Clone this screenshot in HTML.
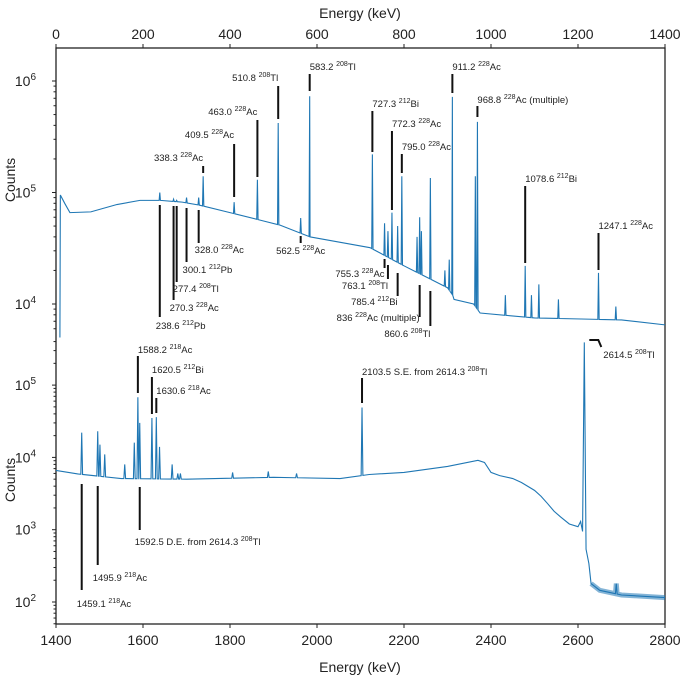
<!DOCTYPE html>
<html><head><meta charset="utf-8"><style>
html,body{margin:0;padding:0;background:#fff;}
svg{display:block;font-family:"Liberation Sans","DejaVu Sans",sans-serif;}
.tk{font-size:14px;fill:#222;}
.an{font-size:9.5px;fill:#222;}
.sup{font-size:7px;}
</style></head><body>
<svg id="chart" width="685" height="679" viewBox="0 0 685 679" xmlns="http://www.w3.org/2000/svg">
<g id="axes"></g><g id="series"></g><g id="annos"></g>
</svg>
<script>
// ---- data: top panel (0-1400 keV) ----
const topContE = [9, 10, 20, 32, 80, 140, 193, 240, 290, 330, 400, 515, 584, 722, 800, 900, 912, 915, 960, 975, 1100, 1300, 1400];
const topContC = [5000, 95000, 80000, 66000, 67000, 78000, 85000, 85000, 82000, 77000, 66000, 51000, 40000, 32000, 22000, 14000, 12000, 11000, 10000, 8300, 7500, 7200, 6500];
const topPeakE = [238.6, 270.3, 277.4, 300.1, 328.0, 338.3, 409.5, 463.0, 510.8, 562.5, 583.2, 727.3, 755.3, 763.1, 772.3, 785.4, 795.0, 830, 836, 840, 860.6, 894, 904, 911.2, 964, 968.8, 1033, 1078.6, 1093, 1110, 1155, 1247.1, 1287];
const topPeakC = [100000, 87000, 85000, 90000, 90000, 140000, 82000, 130000, 420000, 59000, 730000, 220000, 53000, 45000, 66000, 50000, 140000, 40000, 60000, 45000, 135000, 20000, 25000, 720000, 140000, 430000, 12000, 22000, 12000, 15000, 11000, 19000, 9500];
// ---- data: bottom panel (1400-2800 keV) ----
const botContE = [1400, 1450, 1550, 1700, 1900, 2053, 2120, 2200, 2300, 2370, 2385, 2400, 2420, 2450, 2470, 2500, 2515, 2530, 2545, 2560, 2580, 2600, 2606, 2625, 2630, 2650, 2700, 2800];
const botContC = [6600, 5900, 5100, 5000, 5300, 5100, 5800, 6200, 7500, 9100, 8500, 6200, 5600, 5100, 4500, 3500, 2900, 2300, 1800, 1500, 1200, 1100, 1300, 340, 180, 145, 125, 115];
const botPeakE = [1459.1, 1495.9, 1501, 1512, 1558, 1580, 1588.2, 1592.5, 1620.5, 1630.6, 1638, 1667, 1680, 1686, 1806, 1888, 1953, 2103.5, 2614.5, 2688];
const botPeakC = [22000, 23000, 15000, 11000, 8000, 16000, 68000, 30000, 35000, 36000, 14000, 8000, 6000, 6000, 6200, 6400, 6000, 49000, 390000, 180];
// ---- tick labels ----
const topTicks = [0, 200, 400, 600, 800, 1000, 1200, 1400];
const botTicks = [1400, 1600, 1800, 2000, 2200, 2400, 2600, 2800];
const topDecades = [4, 5, 6];
const botDecades = [2, 3, 4, 5];
// ---- annotations ----
const annE   = [338.3, 409.5, 463.0, 510.8, 583.2, 727.3, 772.3, 795.0, 911.2, 968.8, 1078.6, 1247.1, 238.6, 270.3, 277.4, 300.1, 328.0, 562.5, 755.3, 763.1, 785.4, 836, 860.6];
const annNum = ["338.3","409.5","463.0","510.8","583.2","727.3","772.3","795.0","911.2","968.8","1078.6","1247.1","238.6","270.3","277.4","300.1","328.0","562.5","755.3","763.1","785.4","836","860.6"];
const annIso = ["228","228","228","208","208","212","228","228","228","228","212","228","212","228","208","212","228","228","228","208","212","228","208"];
const annEl  = ["Ac","Ac","Ac","Tl","Tl","Bi","Ac","Ac","Ac","Ac (multiple)","Bi","Ac","Pb","Ac","Tl","Pb","Ac","Ac","Ac","Tl","Bi","Ac (multiple)","Tl"];
const annY1 = [166,144,120,86,74,111,131,154,74,106,186,233,205,206,206,208,210,236,259,265,273,285,291];
const annY2 = [173,197,177,119,91,152,210,173,93,117,263,270,317,300,282,262,243,243,268,279,296,317,326];
const annTY = [161,138,115,81,70,107,127,150,70,103,182,229,329,311,292,273,253,254,277,289,305,321,337];
const annAl = ["end","end","end","end","start","start","start","start","start","start","start","start","b","b","b","b","b","middle","end","end","end","end","end"];
const bAnnE   = [1588.2, 1620.5, 1630.6, 2103.5, 1459.1, 1495.9, 1592.5];
const bAnnNum = ["1588.2","1620.5","1630.6","2103.5 S.E. from 2614.3","1459.1","1495.9","1592.5 D.E. from 2614.3"];
const bAnnIso = ["218","212","218","208","218","218","208"];
const bAnnEl  = ["Ac","Bi","Ac","Tl","Ac","Ac","Tl"];
const bAnnY1 = [356,377,398,378,484,486,487];
const bAnnY2 = [393,414,413,403,590,565,530];
const bAnnTY = [353,373,394,375,607,581,545];

const NS="http://www.w3.org/2000/svg";
const X0=56, X1=665, YT=48, YB=624;
function xTop(e){return X0+(e-0)*(X1-X0)/1400;}
function xBot(e){return X0+(e-1400)*(X1-X0)/1400;}
function yTop(c){return 81+111.5*(6-Math.log10(c));}
function yBot(c){return 602-72.3*(Math.log10(c)-2);}
function mk(tag,attrs,parent){const el=document.createElementNS(NS,tag);for(const k in attrs)el.setAttribute(k,attrs[k]);parent.appendChild(el);return el;}
const axes=document.getElementById('axes'), series=document.getElementById('series'), annos=document.getElementById('annos');

const frame=mk('rect',{x:X0,y:YT,width:X1-X0,height:YB-YT,fill:'none',stroke:'#222','stroke-width':1.3},axes);


topTicks.forEach(t=>{
  const x=xTop(t);
  const l=mk('line',{x1:x,x2:x,y1:YT,y2:YT-4,stroke:'#222','stroke-width':1},axes);
  
  
  const tx=mk('text',{x:x,y:YT-9,'text-anchor':'middle',class:'tk'},axes);tx.textContent=t;
  
  
});
botTicks.forEach(t=>{
  const x=xBot(t);
  const l=mk('line',{x1:x,x2:x,y1:YB,y2:YB+4,stroke:'#222','stroke-width':1},axes);
  
  
  const tx=mk('text',{x:x,y:YB+21,'text-anchor':'middle',class:'tk'},axes);tx.textContent=t;
  
  
});
function yTicks(decs,yf,ymin,ymax,nm){
  for(let d=decs[0]-1; d<=decs[decs.length-1]; d++){
    for(let m=1;m<10;m++){
      const y=yf(m*Math.pow(10,d));
      if(y<ymin||y>ymax)continue;
      const l=mk('line',{x1:X0,x2:X0-(m===1?4:2.5),y1:y,y2:y,stroke:'#222','stroke-width':1},axes);
      
      
    }
  }
  decs.forEach(d=>{
    const y=yf(Math.pow(10,d));
    const tx=mk('text',{x:X0-20,y:y+5,'text-anchor':'end',class:'tk'},axes);
    
    
    tx.textContent='10';
    const s=mk('tspan',{dy:-6,'font-size':'10px'},tx);s.textContent=d;
  });
}
yTicks(topDecades,yTop,YT,336,'top');
yTicks(botDecades,yBot,338,YB,'bottom');
[['Energy (keV)',360,18,'top-x-axis-title'],['Energy (keV)',360,672,'bottom-x-axis-title']].forEach(a=>{
  const t=mk('text',{x:a[1],y:a[2],'text-anchor':'middle',class:'tk'},axes);t.textContent=a[0];
  
  
});
[[180,'top-y-axis-title'],[480,'bottom-y-axis-title']].forEach(a=>{
  const t=mk('text',{x:0,y:0,'text-anchor':'middle',class:'tk',transform:`translate(15,${a[0]}) rotate(-90)`},axes);t.textContent='Counts';
  
  
});

function contAt(E,cE,cC){
  if(E<=cE[0])return cC[0];
  for(let i=1;i<cE.length;i++){ if(E<=cE[i]){const f=(E-cE[i-1])/(cE[i]-cE[i-1]);return Math.pow(10,Math.log10(cC[i-1])+f*(Math.log10(cC[i])-Math.log10(cC[i-1])));} }
  return cC[cC.length-1];
}
function build(cE,cC,pE,pC,w){
  let pts=cE.map((e,i)=>[e,cC[i]]);
  pE.forEach((e,i)=>{const ww=pC[i]>200000&&e>2000?4:w;pts.push([e-ww,contAt(e-ww,cE,cC)],[e,pC[i]],[e+ww,contAt(e+ww,cE,cC)]);});
  pts.sort((a,b)=>a[0]-b[0]);
  return pts;
}
const topPts=build(topContE,topContC,topPeakE,topPeakC,1.5);
const botPts=build(botContE,botContC,botPeakE,botPeakC,2);
const p1=mk('polyline',{points:topPts.map(p=>xTop(p[0]).toFixed(2)+','+yTop(p[1]).toFixed(2)).join(' '),fill:'none',stroke:'#1f77b4','stroke-width':1.1},series);


const p2=mk('polyline',{points:botPts.map(p=>xBot(p[0]).toFixed(2)+','+yBot(p[1]).toFixed(2)).join(' '),fill:'none',stroke:'#1f77b4','stroke-width':1.1},series);


const nb=mk('polyline',{points:botPts.filter(p=>p[0]>=2630).map(p=>xBot(p[0]).toFixed(2)+','+yBot(p[1]).toFixed(2)).join(' '),fill:'none',stroke:'#1f77b4','stroke-width':5,'stroke-opacity':0.55},series);



function label(x,y,num,iso,el,anchor){
  const t=mk('text',{x:x,y:y,'text-anchor':anchor,class:'an'},annos);
  
  
  const a=mk('tspan',{},t);a.textContent=num+' ';
  const b=mk('tspan',{dy:-4,class:'sup'},t);b.textContent=iso;
  const c=mk('tspan',{dy:4},t);c.textContent=el;
}
annE.forEach((e,i)=>{
  const x=xTop(e);
  const l=mk('line',{x1:x,x2:x,y1:annY1[i],y2:annY2[i],stroke:'#111','stroke-width':2},annos);
  
  
  let al=annAl[i], lx=x;
  if(al==='b'){al='start';lx=x-4;}
  label(lx,annTY[i],annNum[i],annIso[i],annEl[i],al);
});
bAnnE.forEach((e,i)=>{
  const x=xBot(e);
  const l=mk('line',{x1:x,x2:x,y1:bAnnY1[i],y2:bAnnY2[i],stroke:'#111','stroke-width':2},annos);
  
  
  label(i>=4?x-5:x,bAnnTY[i],bAnnNum[i],bAnnIso[i],bAnnEl[i],'start');
});
const hx=xBot(2614.5);
const hk=mk('polyline',{points:`${hx+5},340 ${hx+14},340 ${hx+17},347`,fill:'none',stroke:'#111','stroke-width':2},annos);


label(hx+19,358,'2614.5','208','Tl','start');
</script>
</body></html>
